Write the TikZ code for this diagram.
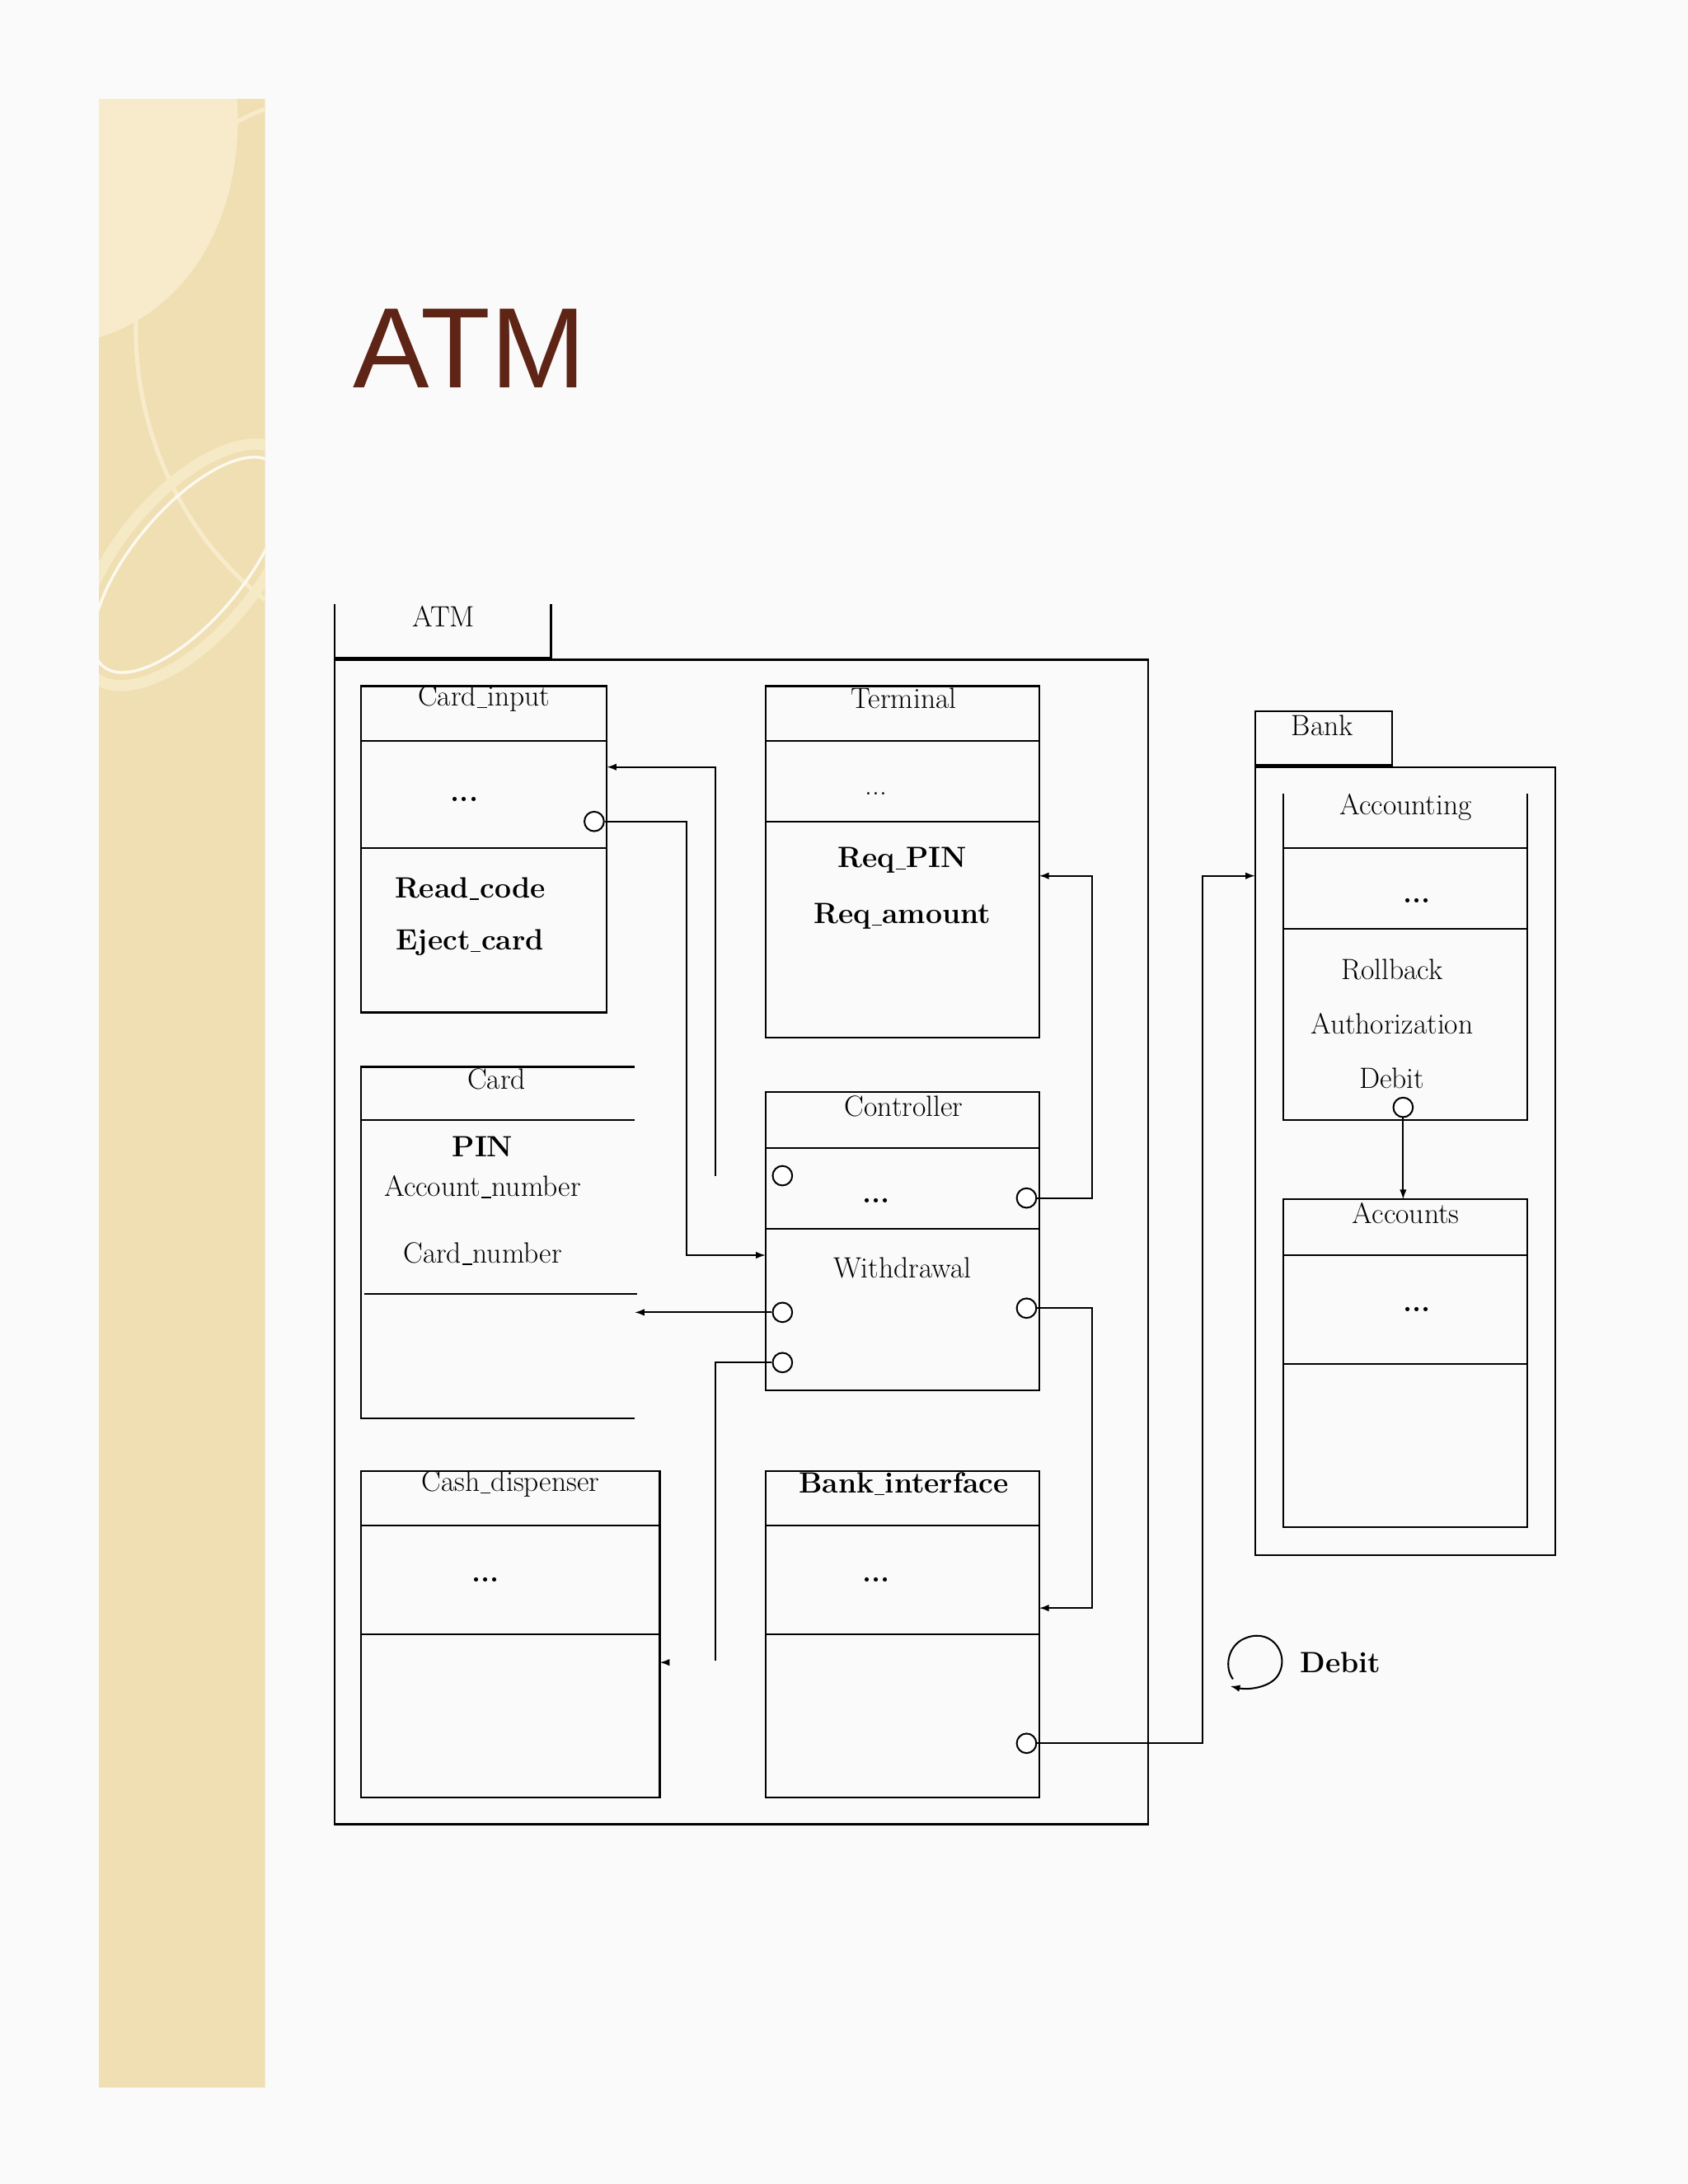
\documentclass[tikz,border=0pt]{standalone}
\usepackage{fontspec}
\newfontfamily\titlefont{Liberation Sans}
\usetikzlibrary{arrows.meta}
\definecolor{strip}{HTML}{F0DFB2}
\definecolor{stripl}{HTML}{F7EBCB}
\definecolor{titlec}{HTML}{5E2416}
\newcommand\us{\kern0.5pt\rule[-1.5pt]{7pt}{0.9pt}\kern0.5pt}
\begin{document}
\begin{tikzpicture}[x=1pt,y=-1pt,
  box/.style={draw,line width=1.3pt},
  ln/.style={line width=1.2pt},
  t/.style={font=\fontsize{21}{24}\selectfont,inner sep=0pt},
  tb/.style={font=\fontsize{21}{24}\selectfont\bfseries,inner sep=0pt},
  port/.style={draw,line width=1.2pt,fill=white,circle,minimum size=14pt,inner sep=0pt},
  arr/.style={ln,-{Latex[length=7pt,width=5pt]}}]
\useasboundingbox (0,0) rectangle (1210,1566);
\fill[white!98!black] (0,0) rectangle (1210,1566);
% decorative strip
\begin{scope}
\clip (71,71) rectangle (190,1497);
\fill[strip] (71,71) rectangle (190,1497);
\fill[stripl] (71,71) -- (170,71) .. controls (175,150) and (140,220) .. (71,242) -- cycle;
\draw[stripl,line width=3pt] (200,75) .. controls (70,110) and (60,330) .. (190,430);
\draw[stripl!80!strip,line width=8pt,rotate around={-40:(135,405)}] (135,405) ellipse (50 and 105);
\draw[white!80!strip,line width=2pt,rotate around={-40:(135,405)}] (135,405) ellipse (40 and 95);
\end{scope}
\node[font=\titlefont\fontsize{82}{86}\selectfont,text=titlec,anchor=west,inner sep=0pt] (title) at (253,250) {ATM};
% ATM package
\draw[box] (240,433) -- (240,1308) -- (823,1308) -- (823,473) -- (240,473);
\draw[box] (240,473) -- (395,473) -- (395,433);
\draw[line width=2.2pt] (240,472) -- (395,472);
\node[t] (atml) at (318,442) {ATM};
% Card_input
\draw[box] (259,492) rectangle (435,726);
\draw[ln] (259,531) -- (435,531) (259,608) -- (435,608);
\node[t] (ci) at (347,501) {Card\us input};
\node[tb] at (333,573) {...};
\node[tb] at (337,637) {Read\us code};
\node[tb] at (337,676) {Eject\us card};
\node[port] (p1) at (426,589) {};
% Terminal
\draw[box] (549,492) rectangle (745,744);
\draw[ln] (549,531) -- (745,531) (549,589) -- (745,589);
\node[t] (term) at (648,501) {Terminal};
\node[t] at (628,569) {...};
\node[tb] at (647,617) {Req\us PIN};
\node[tb] at (647,657) {Req\us amount};
\coordinate (termin) at (745,628);
% Card
\draw[box] (455,765) -- (259,765) -- (259,1017) -- (455,1017);
\draw[ln] (259,803) -- (455,803) (261,928) -- (457,928);
\node[t] (card) at (356,774) {Card};
\node[tb] at (346,822) {PIN};
\node[t] at (346,851) {Account\us number};
\node[t] at (346,899) {Card\us number};
\coordinate (cardin) at (455,941);
% Controller
\draw[box] (549,783) rectangle (745,997);
\draw[ln] (549,823) -- (745,823) (549,881) -- (745,881);
\node[t] (ctrl) at (648,793) {Controller};
\node[tb] at (628,861) {...};
\node[t] at (647,909) {Withdrawal};
\node[port] (c1) at (561,843) {};
\node[port] (c2) at (736,859) {};
\node[port] (c3) at (561,941) {};
\node[port] (c4) at (736,938) {};
\node[port] (c5) at (561,977) {};
\coordinate (ctrlin) at (549,900);
% Cash_dispenser
\draw[box] (259,1055) rectangle (473,1289);
\draw[ln] (259,1094) -- (473,1094) (259,1172) -- (473,1172);
\node[t] (cash) at (366,1064) {Cash\us dispenser};
\node[tb] at (348,1133) {...};
% Bank_interface
\draw[box] (549,1055) rectangle (745,1289);
\draw[ln] (549,1094) -- (745,1094) (549,1172) -- (745,1172);
\node[tb] (bi) at (648,1064) {Bank\us interface};
\node[tb] at (628,1133) {...};
\node[port] (b1) at (736,1250) {};
\coordinate (biin) at (745,1153);
% Bank package
\draw[box] (900,510) rectangle (998,550);
\draw[line width=2.2pt] (900,549) -- (998,549);
\node[t] (bankl) at (948,520) {Bank};
\draw[box] (900,550) rectangle (1115,1115);
\draw[box] (920,569) -- (920,803) -- (1095,803) -- (1095,569);
\draw[ln] (920,608) -- (1095,608) (920,666) -- (1095,666);
\node[t] (acc) at (1008,579) {Accounting};
\node[tb] at (1016,646) {...};
\node[t] at (998,695) {Rollback};
\node[t] at (998,734) {Authorization};
\node[t] at (998,773) {Debit};
\node[port] (a1) at (1006,794) {};
\draw[box] (920,860) rectangle (1095,1095);
\draw[ln] (920,900) -- (1095,900) (920,978) -- (1095,978);
\node[t] (accts) at (1008,870) {Accounts};
\node[tb] at (1016,939) {...};
\coordinate (acctin) at (1006,860);
\coordinate (bankin) at (900,628);
% connectors
\coordinate (ci2) at (435,550);
\draw[arr] (513,843) -- (513,550) -- (ci2);
\draw[arr] (p1.east) -- (492,589) -- (492,900) -- (ctrlin);
\draw[arr] (c2.east) -- (783,859) -- (783,628) -- (termin);
\draw[arr] (c3.west) -- (cardin);
\draw[ln] (c5.west) -- (513,977) -- (513,1191);
\coordinate (cashin) at (473,1192);
\draw[arr] (479,1192) -- (cashin);
\draw[arr] (c4.east) -- (783,938) -- (783,1153) -- (biin);
\draw[arr] (b1.east) -- (862,1250) -- (862,628) -- (bankin);
\draw[arr] (a1.south) -- (acctin);
% Debit loop
\draw[arr] (890,1176) .. controls (910,1165) and (925,1185) .. (917,1200) .. controls (912,1210) and (895,1212) .. (882,1209);
\draw[ln] (890,1176) .. controls (880,1182) and (878,1196) .. (884,1204);
\node[tb,anchor=west] (dl) at (932,1192) {Debit};
\end{tikzpicture}
\end{document}
